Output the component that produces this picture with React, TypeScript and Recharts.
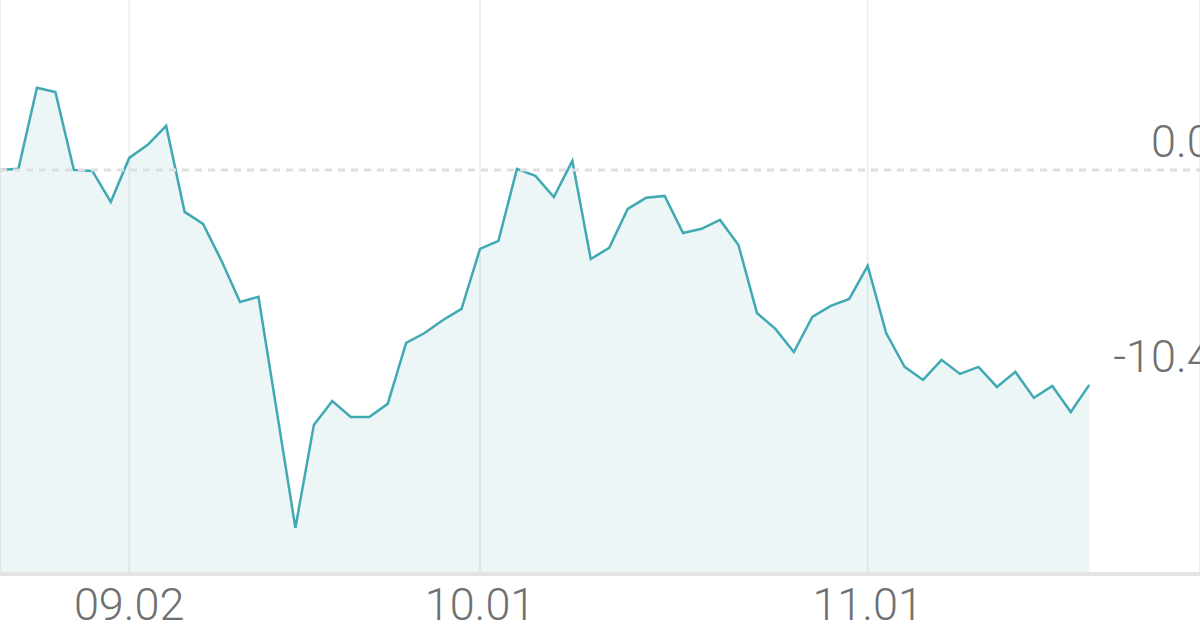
import { AreaChart, Area, XAxis, YAxis, CartesianGrid, ReferenceLine } from "recharts";

// trading days shown in the chart
const dates = [
  "08.22", "08.23", "08.26", "08.27", "08.28", "08.29", "08.30",
  "09.02", "09.03", "09.04", "09.05", "09.06", "09.09", "09.10", "09.11",
  "09.12", "09.13", "09.16", "09.19", "09.20", "09.23", "09.24", "09.25",
  "09.26", "09.27", "09.30",
  "10.01", "10.02", "10.04", "10.07", "10.08", "10.10", "10.11", "10.14",
  "10.15", "10.16", "10.17", "10.18", "10.21", "10.22", "10.23", "10.24",
  "10.25", "10.28", "10.29", "10.30", "10.31",
  "11.01", "11.04", "11.05", "11.06", "11.07", "11.08", "11.11", "11.12",
  "11.13", "11.14", "11.15", "11.18", "11.19",
];

// return in % vs. first day
const returns = [
  0.0, 0.05, 3.97, 3.77, 0.0, -0.05, -1.55, 0.58, 1.21, 2.13,
  -2.03, -2.61, -4.4, -6.39, -6.14, -11.71, -17.32, -12.34, -11.18, -11.95,
  -11.95, -11.32, -8.37, -7.89, -7.26, -6.72, -3.82, -3.43, 0.05, -0.29,
  -1.31, 0.44, -4.31, -3.77, -1.89, -1.35, -1.26, -3.05, -2.85, -2.42,
  -3.63, -6.92, -7.69, -8.81, -7.11, -6.58, -6.24, -4.64, -7.89, -9.53,
  -10.16, -9.19, -9.87, -9.53, -10.5, -9.77, -11.03, -10.45, -11.71, -10.4,
];

const tickDates = ["09.02", "10.01", "11.01"];

const data = returns.map((value, i) => ({ idx: i, date: dates[i], value }));
const xTicks = tickDates.map((d) => dates.indexOf(d));
const lastValue = returns[returns.length - 1];

const FONT = "Roboto, 'Noto Sans', sans-serif";
const TEXT = "#707070";

const XTick = (props: any) => {
  const { x, payload } = props;
  return (
    <text x={x} y={620} textAnchor="middle" fontSize={45} fontWeight={300} fill={TEXT} fontFamily={FONT}>
      {dates[payload.value]}
    </text>
  );
};

// value label sitting just above a horizontal line, right aligned past the edge
const valueLabel = (value: number) => (props: any) => {
  const { viewBox } = props;
  return (
    <text x={1270} y={viewBox.y - 13} textAnchor="end" fontSize={45} fontWeight={300} fill={TEXT} fontFamily={FONT}>
      {value.toFixed(2) + "%"}
    </text>
  );
};

export default function App() {
  return (
    <div style={{ position: "absolute", left: 0, top: 0, background: "#fff" }}>
      <AreaChart
        width={1200}
        height={630}
        data={data}
        margin={{ top: 0, right: 0, bottom: 0, left: 0 }}
      >
        <CartesianGrid horizontal={false} stroke="#efefef" strokeWidth={2} />
        <XAxis
          dataKey="idx"
          type="number"
          domain={[0, 65]}
          ticks={xTicks}
          height={56}
          tickLine={false}
          axisLine={{ stroke: "#e4e4e4", strokeWidth: 4 }}
          tick={<XTick />}
        />
        <YAxis hide domain={[-19.55, 8.22]} allowDataOverflow />
        <ReferenceLine
          y={0}
          stroke="#dedede"
          strokeWidth={3}
          strokeDasharray="7 6"
          label={valueLabel(0)}
        />
        <ReferenceLine y={lastValue} stroke="none" label={valueLabel(lastValue)} />
        <Area
          type="linear"
          dataKey="value"
          stroke="#40a9b4"
          strokeWidth={2.5}
          fill="#40a9b4"
          fillOpacity={0.1}
          baseValue="dataMin"
          dot={false}
          activeDot={false}
          isAnimationActive={false}
        />
      </AreaChart>
    </div>
  );
}
